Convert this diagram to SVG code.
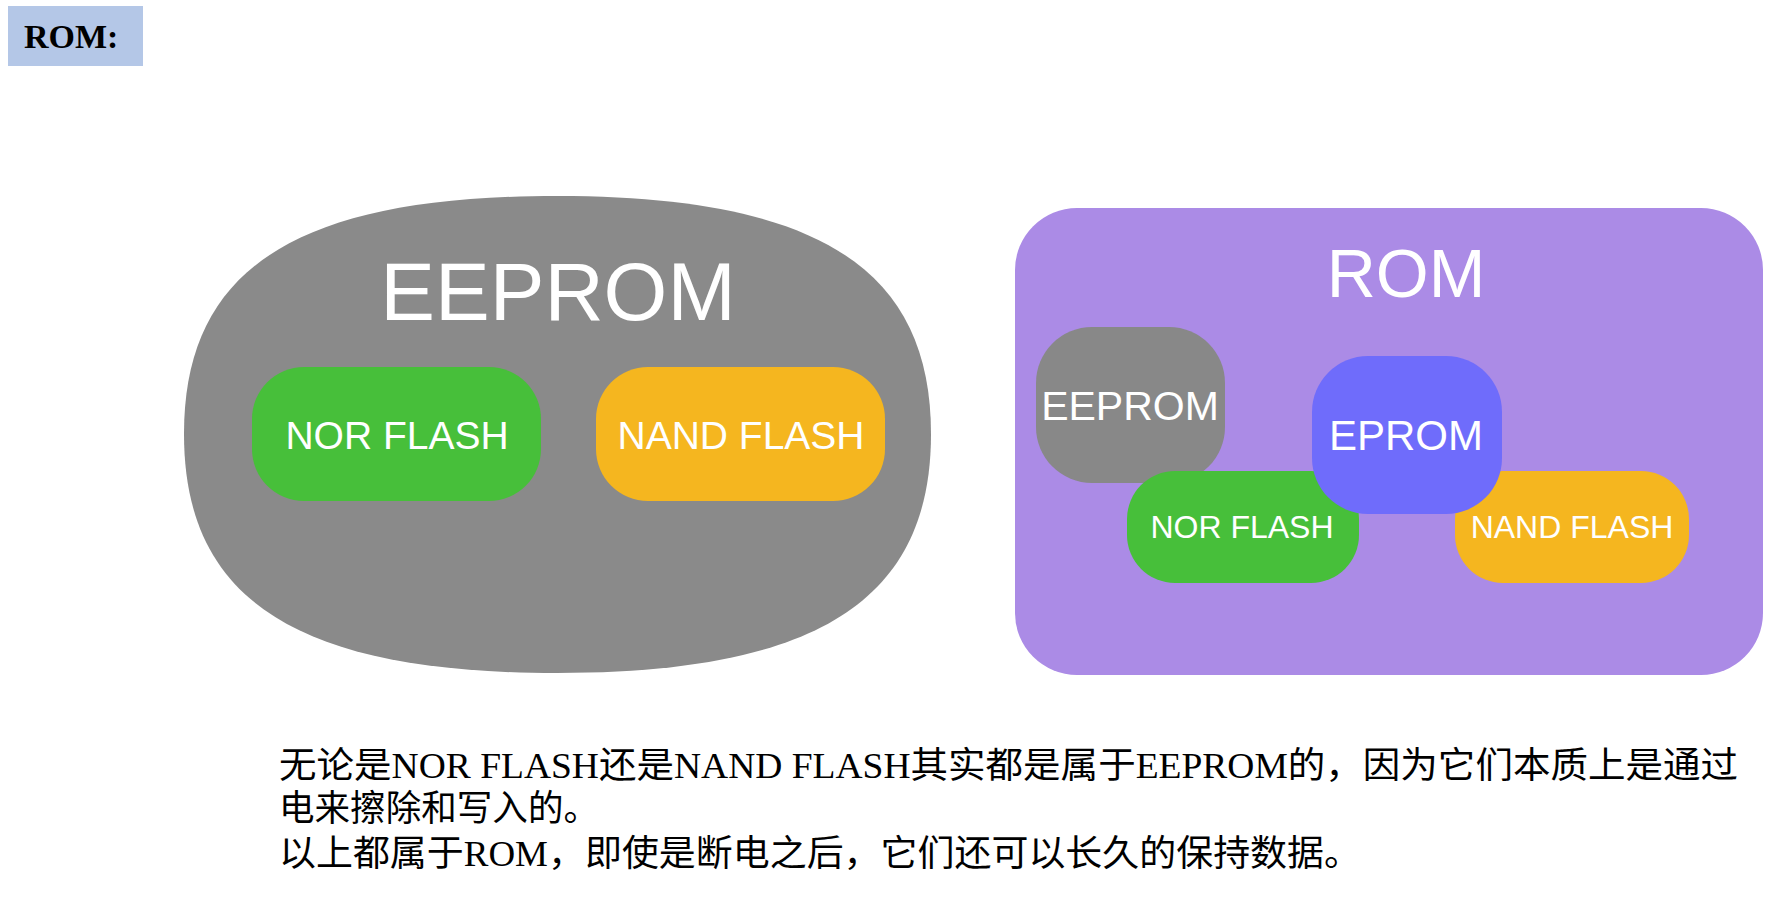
<svg xmlns="http://www.w3.org/2000/svg" width="1774" height="899" viewBox="0 0 1774 899">
<style>
.w{fill:#fff;font-family:"Liberation Sans",Arial,sans-serif;text-anchor:middle}
.p{font-family:"Liberation Serif","Noto Sans CJK SC",serif;font-size:36px;fill:#000}
</style>
<rect width="1774" height="899" fill="#fff"/>
<g id="title"><rect x="8" y="6" width="135" height="60" fill="#b4c7e7"/><text x="24" y="48" font-family="Liberation Serif,serif" font-weight="bold" font-size="34">ROM:</text></g>
<g id="left-eeprom">
<path d="M557,196 C820,196 931,270 931,434 C931,598 820,673 557,673 C294,673 184,598 184,434 C184,270 294,196 557,196 Z" fill="#8a8a8a"/>
<text class="w" x="558" y="320" font-size="82">EEPROM</text>
</g>
<g id="left-nor"><rect x="252" y="367" width="289" height="134" rx="52" fill="#47bf3a"/><text class="w" x="397" y="449" font-size="39">NOR FLASH</text></g>
<g id="left-nand"><rect x="596" y="367" width="289" height="134" rx="52" fill="#f5b61f"/><text class="w" x="741" y="449" font-size="39">NAND FLASH</text></g>
<g id="rom"><rect x="1015" y="208" width="748" height="467" rx="62" fill="#ab8be6"/><text class="w" x="1406" y="297" font-size="68">ROM</text></g>
<g id="r-eeprom"><rect x="1036" y="327" width="189" height="156" rx="56" fill="#888888"/><text class="w" x="1130" y="420" font-size="41">EEPROM</text></g>
<g id="r-nor"><rect x="1127" y="471" width="232" height="112" rx="48" fill="#47bf3a"/><text class="w" x="1242" y="538" font-size="32">NOR FLASH</text></g>
<g id="r-nand"><rect x="1455" y="471" width="234" height="112" rx="48" fill="#f5b61f"/><text class="w" x="1572" y="538" font-size="32">NAND FLASH</text></g>
<g id="r-eprom"><rect x="1312" y="356" width="190" height="158" rx="56" fill="#6f6cfb"/><text class="w" x="1406" y="450" font-size="42">EPROM</text></g>
<g id="connectors"/>
<g id="note">
<text class="p" x="279" y="778" textLength="1459" lengthAdjust="spacingAndGlyphs">无论是NOR FLASH还是NAND FLASH其实都是属于EEPROM的，因为它们本质上是通过</text>
<text class="p" x="279" y="821" textLength="320" lengthAdjust="spacingAndGlyphs">电来擦除和写入的。</text>
<text class="p" x="279" y="866" textLength="1082" lengthAdjust="spacingAndGlyphs">以上都属于ROM，即使是断电之后，它们还可以长久的保持数据。</text>
</g>
</svg>
